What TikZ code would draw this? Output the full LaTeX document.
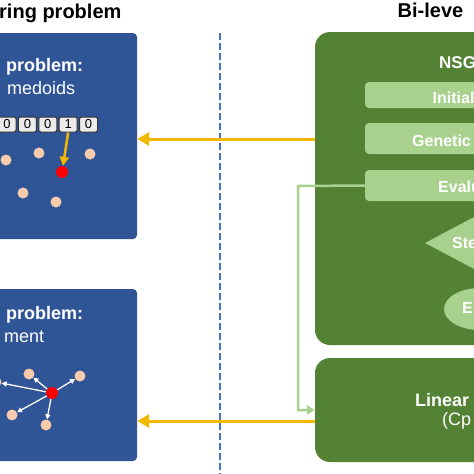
\documentclass[tikz,border=0pt]{standalone}
\usepackage{fontspec}
\setmainfont{Liberation Sans}
\usetikzlibrary{arrows.meta,shapes.geometric}
\definecolor{boxblue}{HTML}{2F5597}
\definecolor{boxgreen}{HTML}{548235}
\definecolor{lightgreen}{HTML}{A9D18E}
\definecolor{gold}{HTML}{F5B800}
\definecolor{peach}{HTML}{F8CBAD}
\definecolor{dashblue}{HTML}{4472C4}
\newcommand{\fs}[1]{\fontsize{#1}{#1}\selectfont}
\begin{document}
\begin{tikzpicture}[x=1pt,y=-1pt,
		bluebox/.style={fill=boxblue,rounded corners=4pt,inner sep=0pt},
		greenbox/.style={fill=boxgreen,rounded corners=15pt,inner sep=0pt},
		stepbar/.style={fill=lightgreen,rounded corners=4pt,inner sep=0pt,minimum width=195pt},
		bit/.style={draw=black!80,fill=black!8,line width=1pt,rounded corners=2pt,inner sep=0pt,minimum width=18pt,minimum height=15pt,font=\fs{13}},
		dot/.style={circle,fill=peach,inner sep=0pt,minimum size=11pt},
		medoid/.style={circle,fill=red,inner sep=0pt,minimum size=12pt},
		label/.style={anchor=base west,inner sep=0pt,text=white},
		yarrow/.style={draw=gold,line width=3pt,-{Triangle[length=12pt,width=13pt]}},
		warrow/.style={draw=white,line width=1.3pt,-{Triangle[length=5pt,width=5pt]}},
		garrow/.style={draw=lightgreen,line width=2.5pt,-{Triangle[length=8pt,width=9pt]}}]
	\useasboundingbox (0,0) rectangle (474,474);
	\clip (0,0) rectangle (474,474);
	\fill[white] (0,0) rectangle (474,474);
	% titles
	\node[anchor=base west,inner sep=0pt,font=\fs{20}\bfseries] (lefttitle) at (-1,18) {ring problem};
	\node[anchor=base west,inner sep=0pt,font=\fs{20}\bfseries] (righttitle) at (397.5,17) {Bi-leve};
	% divider
	\draw[dashblue,line width=1.5pt,dash pattern=on 7pt off 3pt] (220,33) -- (220,474);
	% left boxes
	\node[bluebox,minimum width=157pt,minimum height=206pt] (upper) at (58.5,136) {};
	\node[bluebox,minimum width=157pt,minimum height=172pt] (lower) at (58.5,375) {};
	\node[label,font=\fs{18}\bfseries] (uphead) at (6,71) {problem:};
	\node[label,font=\fs{18}] (upsub) at (7,94) {medoids};
	\node[label,font=\fs{18}\bfseries] (lowhead) at (6,319) {problem:};
	\node[label,font=\fs{18}] (lowsub) at (4,342) {ment};
	% chromosome
	\foreach \v [count=\i] in {0,0,0,1,0}
		\node[bit] (b\i) at ({7+20.4*(\i-1)},124.5) {\v};
	\node[dot] (p1) at (6,160) {};
	\node[dot] (p2) at (39,153) {};
	\node[dot] (p3) at (90,154) {};
	\node[dot] (p4) at (23,193) {};
	\node[dot] (p5) at (56,202) {};
	\node[medoid] (m1) at (62,172) {};
	\draw[draw=gold,line width=2.5pt,-{Triangle[length=9pt,width=9pt]}] (b4.south) -- (m1);
	% assignment
	\node[medoid] (hub) at (52,393) {};
	\node[dot] (q0) at (-4,382) {};
	\node[dot] (q1) at (29,374) {};
	\node[dot] (q2) at (80,376) {};
	\node[dot] (q3) at (12,415) {};
	\node[dot] (q4) at (46,425) {};
	\foreach \q in {q0,q1,q2,q3,q4}
		\draw[warrow] (hub) -- (\q);
	% right boxes
	\node[greenbox,minimum width=285pt,minimum height=313pt] (nsga) at (457.5,188.5) {};
	\node[greenbox,minimum width=285pt,minimum height=104pt] (lp) at (457.5,410) {};
	\node[label,font=\fs{17}\bfseries] (nsgahead) at (439,68) {NSG};
	\node[stepbar,minimum height=26pt] (init) at (462.5,95) {};
	\node[stepbar,minimum height=31pt] (gen) at (462.5,138.5) {};
	\node[stepbar,minimum height=31pt] (eval) at (462.5,185.5) {};
	\node[label,font=\fs{16}\bfseries] (inittxt) at (432.5,103) {Initial};
	\node[label,font=\fs{16}\bfseries] (gentxt) at (412,146) {Genetic};
	\node[label,font=\fs{16}\bfseries] (evaltxt) at (438,192) {Evalu};
	\node[diamond,fill=lightgreen,inner sep=0pt,minimum width=130pt,minimum height=69pt] (stop) at (490,243) {};
	\node[label,font=\fs{16}\bfseries] (stoptxt) at (452,248) {Ste};
	\node[ellipse,fill=lightgreen,inner sep=0pt,minimum width=72pt,minimum height=42pt] (done) at (480,309) {};
	\node[label,font=\fs{16}\bfseries] (donetxt) at (462,313) {E};
	\node[label,font=\fs{18}\bfseries] (lptxt) at (415,406) {Linear};
	\node[label,font=\fs{18}] (lpsub) at (442,425) {(Cp};
	% connectors
	\coordinate (bend) at (298,186);
	\draw[garrow] (eval.west) -- (bend) |- (lp.west);
	\draw[yarrow] ([yshift=-3pt]nsga.west |- upper.east) -- ([yshift=-3pt]upper.east);
	\draw[yarrow] ([yshift=-11pt]lp.west) -- ([yshift=-11pt]lower.east |- lp.west);
\end{tikzpicture}
\end{document}
